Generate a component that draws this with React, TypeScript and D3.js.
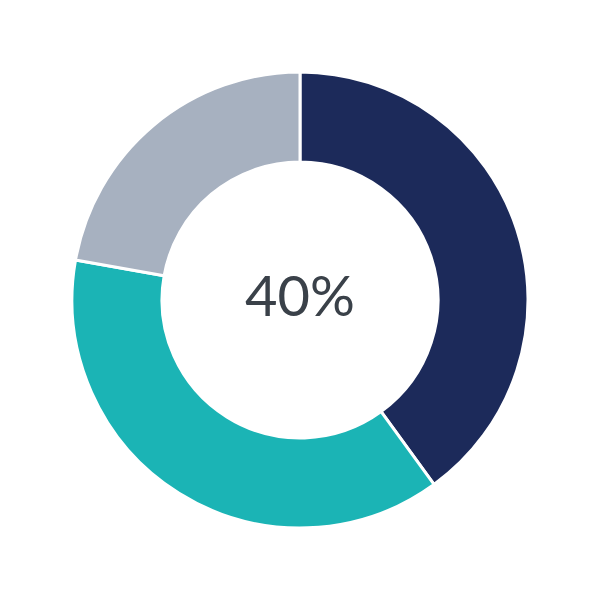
import React from 'react';
import * as d3 from 'd3';

// Slice data, clockwise from 12 o'clock
const categories = ['A', 'B', 'C'];
const values = [40, 37.8, 22.2];
const colors = ['#1c2a5a', '#1bb4b5', '#a7b1c0'];
const centerLabel = '40%';

const WIDTH = 600;
const HEIGHT = 600;
const OUTER_R = 228;
const INNER_R = 138;

export default function App() {
  const pie = d3
    .pie<number>()
    .sort(null)
    .value(d => d);
  const arcs = pie(values);

  const arc = d3
    .arc<d3.PieArcDatum<number>>()
    .innerRadius(INNER_R)
    .outerRadius(OUTER_R);

  return (
    <div style={{ position: 'absolute', left: 0, top: 0 }}>
      <svg width={WIDTH} height={HEIGHT} style={{ display: 'block', background: '#fff' }}>
        <g transform={`translate(${WIDTH / 2},${HEIGHT / 2})`}>
          {arcs.map((a, i) => (
            <path
              key={categories[i]}
              d={arc(a) || ''}
              fill={colors[i]}
              stroke="#fff"
              strokeWidth={3}
              strokeLinejoin="round"
            />
          ))}
          <text
            x={0}
            y={16}
            textAnchor="middle"
            fill="#3a4149"
            style={{ fontFamily: 'Lato, sans-serif', fontWeight: 400, fontSize: 56 }}
          >
            {centerLabel}
          </text>
        </g>
      </svg>
    </div>
  );
}
